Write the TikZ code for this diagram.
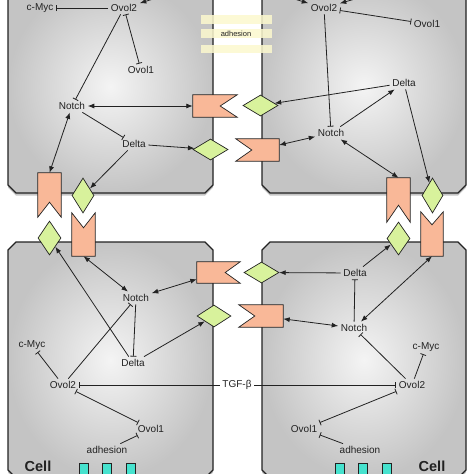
\documentclass[tikz,border=0pt]{standalone}
\usepackage{fontspec}
\setmainfont{Liberation Sans}
\usepackage{tikz}
\usetikzlibrary{arrows.meta}
\usetikzlibrary{calc}
\usetikzlibrary{shadows}
\usetikzlibrary{shapes.geometric}
\definecolor{flagsalmon}{RGB}{249,184,152}
\definecolor{ligandgreen}{RGB}{216,242,156}
\definecolor{barcream}{RGB}{252,248,206}
\definecolor{adhcyan}{RGB}{70,226,206}
\definecolor{cellgray}{RGB}{196,196,196}
\definecolor{celllight}{RGB}{244,244,244}
\definecolor{ink}{RGB}{34,34,34}
\tikzstyle{cell}=[
  draw=ink,
  line width=1.1pt,
  inner color=celllight,
  outer color=cellgray,
  drop shadow={shadow xshift=0pt, shadow yshift=-2.5pt, opacity=0.45}
]
\tikzstyle{gene}=[
  inner sep=2.5pt,
  text=ink,
  font=\fontsize{10}{12}\selectfont
]
\tikzstyle{celltitle}=[
  inner sep=0pt,
  text=ink,
  font=\bfseries\fontsize{14.5}{16}\selectfont
]
\tikzstyle{recbox}=[inner sep=0pt]
\tikzstyle{receptor}=[draw=ink, line width=0.7pt, fill=flagsalmon]
\tikzstyle{ligand}=[
  diamond,
  draw=ink,
  line width=0.7pt,
  fill=ligandgreen,
  inner sep=0pt
]
\tikzstyle{adhrect}=[draw=ink, line width=0.6pt, fill=adhcyan]
\tikzstyle{act}=[-{Latex[length=6.5pt,width=5pt]}, line width=0.8pt, draw=ink]
\tikzstyle{biact}=[{Latex[length=6.5pt,width=5pt]}-{Latex[length=6.5pt,width=5pt]}, line width=0.8pt, draw=ink]
\tikzstyle{inh}=[-{Bar[width=6pt]}, line width=0.8pt, draw=ink]
\tikzstyle{biinh}=[{Bar[width=6pt]}-{Bar[width=6pt]}, line width=0.8pt, draw=ink]
% receptor flags, the notch cut into one side
\newcommand{\flageast}[2]{
  \draw[receptor] (#1.north west) -- (#1.north east) -- ($(#1.east)+(-#2,0)$)
                  -- (#1.south east) -- (#1.south west) -- cycle;
}
\newcommand{\flagwest}[2]{
  \draw[receptor] (#1.north west) -- (#1.north east) -- (#1.south east)
                  -- (#1.south west) -- ($(#1.west)+(#2,0)$) -- cycle;
}
\newcommand{\flagsouth}[2]{
  \draw[receptor] (#1.north west) -- (#1.north east) -- (#1.south east)
                  -- ($(#1.south)+(0,-#2)$) -- (#1.south west) -- cycle;
}
\newcommand{\flagnorth}[2]{
  \draw[receptor] (#1.north west) -- ($(#1.north)+(0,#2)$) -- (#1.north east)
                  -- (#1.south east) -- (#1.south west) -- cycle;
}
\begin{document}
\begin{tikzpicture}[x=1pt, y=-1pt]
  \useasboundingbox (0,0) rectangle (474,474);
  \clip (0,0) rectangle (474,474);

  % cells
  \path[cell] (8,-20) -- (8,185) -- (16,193) -- (205,193) -- (213,185) -- (213,-20) -- cycle;
  \path[cell] (262,-20) -- (262,185) -- (270,193) -- (458,193) -- (466,185) -- (466,-20) -- cycle;
  \path[cell] (16,478) -- (8,470) -- (8,250) -- (16,242) -- (205,242) -- (213,250) -- (213,470) -- (205,478) -- cycle;
  \path[cell] (270,478) -- (262,470) -- (262,250) -- (270,242) -- (458,242) -- (466,250) -- (466,470) -- (458,478) -- cycle;

  % adhesion junction
  \fill[barcream, fill opacity=0.85] (201,15) rectangle (272,24);
  \fill[barcream, fill opacity=0.85] (201,29) rectangle (272,38);
  \fill[barcream, fill opacity=0.85] (201,45) rectangle (272,53);
  \node[gene, font=\fontsize{7.5}{9}\selectfont] (adhbar) at (236,33.5) {adhesion};

  \foreach \bx in {79,102,126,335,358,382}
    \draw[adhrect] (\bx,463) rectangle ++(9,20);

  % receptors
  \node[recbox, minimum width=44pt, minimum height=22pt] (ra) at (215,106)   {};
  \node[recbox, minimum width=43pt, minimum height=22pt] (rb) at (257.5,150) {};
  \node[recbox, minimum width=23pt, minimum height=44pt] (rc) at (49.5,195)  {};
  \node[recbox, minimum width=23pt, minimum height=43pt] (rd) at (83.5,234.5){};
  \node[recbox, minimum width=23pt, minimum height=44pt] (re) at (398.5,200) {};
  \node[recbox, minimum width=22pt, minimum height=44pt] (rf) at (432,234)   {};
  \node[recbox, minimum width=43pt, minimum height=21pt] (rg) at (218.5,272.5){};
  \node[recbox, minimum width=44pt, minimum height=22pt] (rh) at (261,316)   {};
  \flageast{ra}{17}
  \flagwest{rb}{16}
  \flagsouth{rc}{15}
  \flagnorth{rd}{15}
  \flagsouth{re}{17}
  \flagnorth{rf}{13}
  \flageast{rg}{15}
  \flagwest{rh}{16}

  % ligands
  \node[ligand, minimum width=35pt, minimum height=21pt] (la) at (210.5,149.5) {};
  \node[ligand, minimum width=35pt, minimum height=21pt] (lb) at (260.5,105.5) {};
  \node[ligand, minimum width=22pt, minimum height=35pt] (lc) at (83,195.5)    {};
  \node[ligand, minimum width=23pt, minimum height=34pt] (ld) at (49.5,238)    {};
  \node[ligand, minimum width=21pt, minimum height=35pt] (le) at (432.5,195.5) {};
  \node[ligand, minimum width=23pt, minimum height=33pt] (lf) at (398.5,238.5) {};
  \node[ligand, minimum width=35pt, minimum height=21pt] (lg) at (261.5,272.5) {};
  \node[ligand, minimum width=34pt, minimum height=22pt] (lh) at (214,316)     {};

  % top left cell
  \node[gene] (myca)     at (40,8)    {c-Myc};
  \node[gene] (ovoltwoa) at (124,8)   {Ovol2};
  \node[gene] (ovolonea) at (141,70)  {Ovol1};
  \node[gene] (notcha)   at (72,106)  {Notch};
  \node[gene] (deltaa)   at (134,144) {Delta};

  \coordinate (ina) at (176,-8);
  \draw[act]   (ina) -- (ovoltwoa);
  \draw[inh]   (ovoltwoa) -- (myca);
  \draw[biinh] (ovoltwoa) -- (ovolonea);
  \draw[inh]   (ovoltwoa) -- (notcha);
  \draw[inh]   (notcha) -- (deltaa);
  \draw[biact] (notcha) -- (ra);
  \draw[biact] (notcha) -- (rc.north);
  \draw[act]   (deltaa) -- (la);
  \draw[act]   (deltaa) -- (lc);

  % top right cell
  \node[gene] (ovoltwob) at (324,8)   {Ovol2};
  \node[gene] (ovoloneb) at (427,24)  {Ovol1};
  \node[gene] (deltab)   at (404,83)  {Delta};
  \node[gene] (notchb)   at (331,133) {Notch};

  \coordinate (inb) at (278,-6);
  \coordinate (inbb) at (372,-6);
  \draw[act]   (inb) -- (ovoltwob);
  \draw[act]   (inbb) -- (ovoltwob);
  \draw[biinh] (ovoltwob) -- (ovoloneb);
  \draw[inh]   (ovoltwob) -- (notchb);
  \draw[act]   (notchb) -- (deltab);
  \draw[biact] (notchb) -- (rb);
  \draw[biact] (notchb) -- (re.north);
  \draw[act]   (deltab) -- (lb);
  \draw[act]   (deltab) -- (le);

  % bottom left cell
  \node[gene] (notchc)    at (136,298) {Notch};
  \node[gene] (deltac)    at (133,363) {Delta};
  \node[gene] (mycc)      at (32,345)  {c-Myc};
  \node[gene] (ovoltwoc)  at (63,385)  {Ovol2};
  \node[gene] (ovolonec)  at (151,429) {Ovol1};
  \node[gene] (adhesionc) at (107,450) {adhesion};
  \node[celltitle] (cellc) at (38,466) {Cell};

  \draw[biact] (rd.south) -- (notchc);
  \draw[biact] (notchc) -- (rg);
  \draw[inh]   (notchc) -- (deltac);
  \draw[act]   (deltac) -- (ld);
  \draw[act]   (deltac) -- (lh);
  \draw[inh]   (ovoltwoc) -- (notchc);
  \draw[inh]   (ovoltwoc) -- (mycc);
  \draw[biinh] (ovoltwoc) -- (ovolonec);
  \draw[inh]   (adhesionc) -- (ovolonec);

  % bottom right cell
  \node[gene] (deltad)    at (355,273) {Delta};
  \node[gene] (notchd)    at (354,328) {Notch};
  \node[gene] (mycd)      at (426,347) {c-Myc};
  \node[gene] (ovoltwod)  at (412,385) {Ovol2};
  \node[gene] (ovoloned)  at (304,429) {Ovol1};
  \node[gene] (adhesiond) at (360,450) {adhesion};
  \node[celltitle] (celld) at (432,466) {Cell};

  \draw[act]   (deltad) -- (lg);
  \draw[act]   (deltad) -- (lf);
  \draw[inh]   (notchd) -- (deltad);
  \draw[biact] (notchd) -- (rh);
  \draw[biact] (notchd) -- (rf.south);
  \draw[inh]   (ovoltwod) -- (notchd);
  \draw[inh]   (ovoltwod) -- (mycd);
  \draw[biinh] (ovoltwod) -- (ovoloned);
  \draw[inh]   (adhesiond) -- (ovoloned);

  % signal between the lower cells
  \node[gene] (tgf) at (237,385) {TGF-β};
  \draw[inh] (tgf) -- (ovoltwoc);
  \draw[inh] (tgf) -- (ovoltwod);
\end{tikzpicture}
\end{document}
